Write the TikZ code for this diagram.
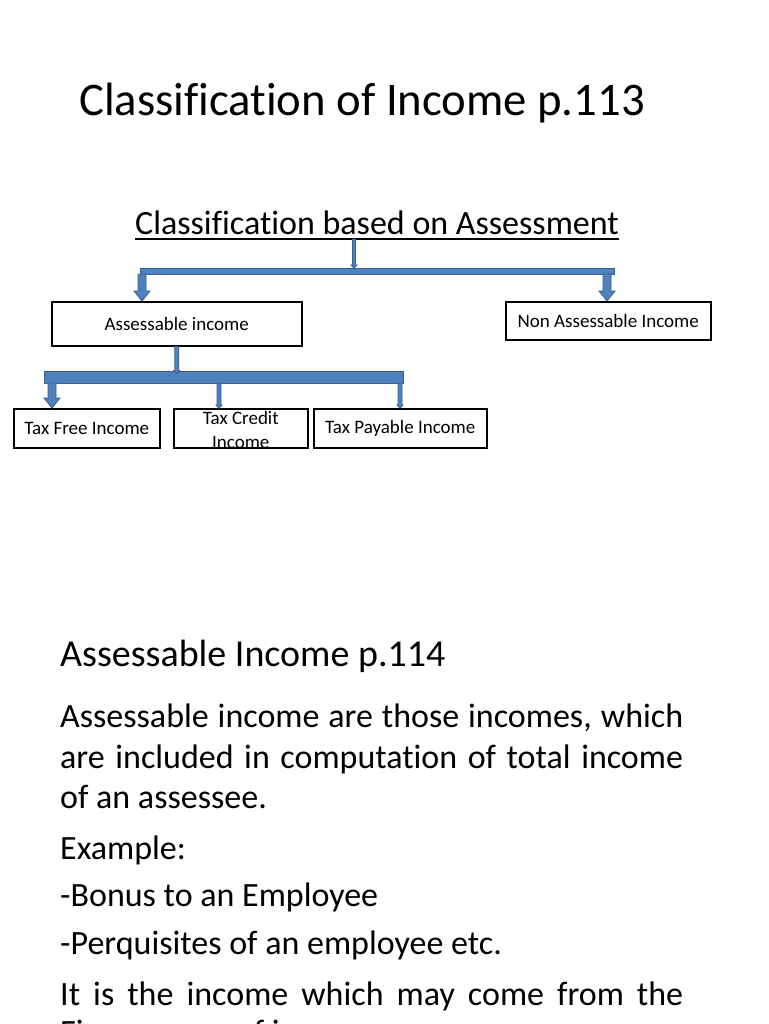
\documentclass[tikz,border=0pt]{standalone}
\usepackage{fontspec}
\setmainfont{Carlito}[Ligatures=NoCommon]
\usetikzlibrary{calc}
\definecolor{barfill}{HTML}{4F81BD}
\definecolor{barline}{HTML}{3A5F8F}
\tikzset{
  boxstyle/.style={draw=black, line width=1.5pt, fill=white, anchor=north west, inner sep=0pt},
  boxtext/.style={font=\fontsize{19}{23}\selectfont, align=center, inner sep=0pt},
  barstyle/.style={fill=barfill, draw=barline, line width=0.8pt, anchor=north west, inner sep=0pt, outer sep=0pt},
  arrowstyle/.style={fill=barfill, draw=barline, line width=0.8pt},
  bodyline/.style={anchor=base west, inner sep=0pt, font=\fontsize{34}{41}\selectfont},
}
% block arrow: #1 start (only its y is used), #2 tip, #3 half shaft, #4 half head, #5 head length
\newcommand\blockarrow[5]{%
  \path[arrowstyle] let \p1=#1, \p2=#2 in
    (\x2-#3pt,\y1) -- (\x2+#3pt,\y1) -- (\x2+#3pt,\y2+#5pt) -- (\x2+#4pt,\y2+#5pt)
    -- (\x2,\y2) -- (\x2-#4pt,\y2+#5pt) -- (\x2-#3pt,\y2+#5pt) -- cycle;}
\begin{document}
\begin{tikzpicture}[x=1pt,y=-1pt]
\useasboundingbox[fill=white] (0,0) rectangle (768,1024);

% title
\node[anchor=base west, inner sep=0pt, font=\fontsize{46.7}{56}\selectfont] (title) at (79,116) {Classification of Income p.113};

% subtitle
\node[anchor=base west, inner sep=0pt, font=\fontsize{34}{41}\selectfont] (sub) at (135,234) {Classification based on Assessment};
\draw[line width=1.5pt] ([yshift=-5pt]sub.base west) -- ([yshift=-5pt]sub.base east);

% boxes
\node[boxstyle, minimum width=250pt, minimum height=44pt] (ai) at (51,301) {};
\node[boxtext] at (ai.center) {Assessable income};
\node[boxstyle, minimum width=205pt, minimum height=38pt] (nai) at (505,301) {};
\node[boxtext] at (nai.center) {Non Assessable Income};
\node[boxstyle, minimum width=146pt, minimum height=39pt] (tf) at (13,408) {};
\node[boxtext] at (tf.center) {Tax Free Income};
\node[boxstyle, minimum width=134pt, minimum height=39pt] (tc) at (173,408) {};
\node[boxtext, font=\fontsize{19}{24}\selectfont] (tctext) at ([yshift=-1.5pt]tc.center) {Tax Credit\\Income};
\node[boxstyle, minimum width=173pt, minimum height=39pt] (tp) at (313,408) {};
\node[boxtext] at (tp.center) {Tax Payable Income};

% bars
\node[barstyle, minimum width=474pt, minimum height=6pt] (bar1) at (140,268) {};
\node[barstyle, minimum width=359pt, minimum height=12pt] (bar2) at (44,371) {};

% connectors
\coordinate (s1) at (354,239);
\blockarrow{(s1)}{(bar1.north -| s1)}{1.5}{3}{3}
\blockarrow{(bar1.south)}{($(ai.north west)+(91,0)$)}{4}{8}{10}
\blockarrow{(bar1.south)}{($(nai.north west)+(102,0)$)}{4}{8}{10}
\blockarrow{(ai.south)}{($(ai.south)+(0,27)$)}{2}{3}{3}
\blockarrow{(bar2.south)}{($(tf.north west)+(39,0)$)}{4}{8}{10}
\blockarrow{(bar2.south)}{($(tc.north west)+(46,0)$)}{2}{3}{3}
\blockarrow{(bar2.south)}{($(tp.north west)+(87,0)$)}{2}{3}{3}

% second section
\node[anchor=base west, inner sep=0pt, font=\fontsize{38}{46}\selectfont] (head2) at (60,666) {Assessable Income p.114};
\node[bodyline] (l1) at (60,727) {\makebox[623pt][s]{Assessable income are those incomes, which}};
\node[bodyline] (l2) at (60,768) {\makebox[623pt][s]{are included in computation of total income}};
\node[bodyline] (l3) at (60,808) {of an assessee.};
\node[bodyline] (l4) at (60,859) {Example:};
\node[bodyline] (l5) at (60,906) {-Bonus to an Employee};
\node[bodyline] (l6) at (60,954) {-Perquisites of an employee etc.};
\node[bodyline] (l7) at (60,1005) {\makebox[623pt][s]{It is the income which may come from the}};
\node[bodyline] (l8) at (60,1043) {Five sources of income:};
\end{tikzpicture}
\end{document}
